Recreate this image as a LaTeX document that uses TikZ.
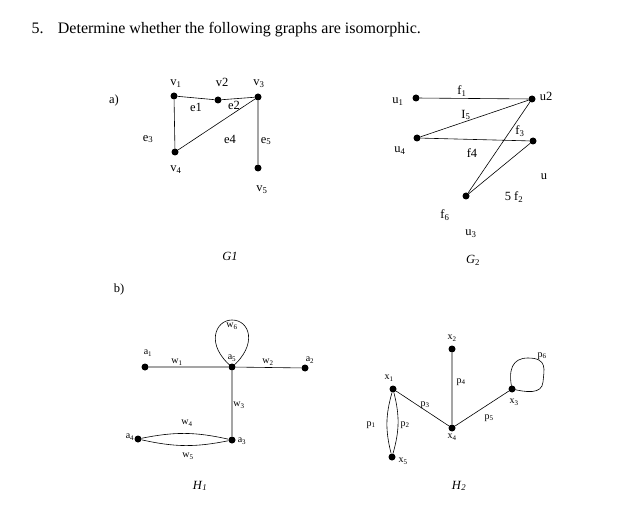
\documentclass[tikz,border=0pt]{standalone}
\usepackage{fontspec}
\setmainfont{Liberation Serif}
\begin{document}
\begin{tikzpicture}[x=1pt,y=-1pt,
  dot/.style={circle,fill=black,inner sep=0pt,minimum size=7pt},
  lbl/.style={font=\fontsize{12.5}{13}\selectfont,inner sep=0pt},
  sml/.style={font=\fontsize{10}{11}\selectfont,inner sep=0pt},
  edge/.style={draw,line width=0.6pt}]
\useasboundingbox (0,0) rectangle (640,505);
\node[anchor=west,font=\fontsize{16}{18}\selectfont] (title) at (28,30) {5.\hspace{0.9em}Determine whether the following graphs are isomorphic.};
\node[lbl] (la) at (114,100) {a)};
\node[lbl] (lb) at (119,289) {b)};
% G1
\node[dot] (v1) at (174,96) {};
\node[dot] (v2) at (218,100) {};
\node[dot] (v3) at (258,97) {};
\node[dot] (v4) at (175,152) {};
\node[dot] (v5) at (258,168) {};
\draw[edge] (v1)--(v2)--(v3) (v1)--(v4)--(v3)--(v5);
\node[lbl] (tv1) at (176,84) {v\textsubscript{1}};
\node[lbl] (tv2) at (222,82) {v2};
\node[lbl] (tv3) at (259,84) {v\textsubscript{3}};
\node[lbl] (te1) at (196,107) {e1};
\node[lbl] (te2) at (234,105) {e2};
\node[lbl] (te3) at (148,139) {e\textsubscript{3}};
\node[lbl] (te4) at (230,139) {e4};
\node[lbl] (te5) at (266,141) {e\textsubscript{5}};
\node[lbl] (tv4) at (176,170) {v\textsubscript{4}};
\node[lbl] (tv5) at (262,190) {v\textsubscript{5}};
\node[lbl,font=\itshape\fontsize{12.5}{13}\selectfont] (g1) at (230,256) {G1};
% G2
\node[dot] (u1) at (416,98) {};
\node[dot] (u2) at (532,99) {};
\node[dot] (u4) at (417,138) {};
\node[dot] (u5) at (533,141) {};
\node[dot] (u3) at (466,196) {};
\draw[edge] (u1)--(u2) (u4)--(u2) (u4)--(u5) (u3)--(u2) (u3)--(u5);
\node[lbl] (tu1) at (398,102) {u\textsubscript{1}};
\node[lbl] (tf1) at (462,91) {f\textsubscript{1}};
\node[lbl] (tu2) at (546,96) {u2};
\node[lbl] (tf5) at (466,115) {I\textsubscript{5}};
\node[lbl] (tu4) at (400,151) {u\textsubscript{4}};
\node[lbl] (tf3) at (520,131) {f\textsubscript{3}};
\node[lbl] (tf4) at (472,153) {f4};
\node[lbl] (tu) at (544,177) {u};
\node[lbl] (tf2) at (514,197) {5 f\textsubscript{2}};
\node[lbl] (tf6) at (445,215) {f\textsubscript{6}};
\node[lbl] (tu3) at (471,234) {u\textsubscript{3}};
\node[lbl] (g2) at (473,260) {\textit{G}\textsubscript{2}};
% H1
\node[dot] (a1) at (145,367) {};
\node[dot] (a5) at (232,367) {};
\node[dot] (a2) at (305,368) {};
\node[dot] (a3) at (232,440) {};
\node[dot] (a4) at (138,439) {};
\draw[edge] (a1)--(a5)--(a2) (a5)--(a3);
\draw[edge] (a4) to[bend left=12] (a3);
\draw[edge] (a4) to[bend right=12] (a3);
\draw[edge] (a5.center) .. controls (205,345) and (215,320) .. (232,320) .. controls (250,320) and (258,345) .. (a5.center);
\node[sml] (tw6) at (232,326) {w\textsubscript{6}};
\node[sml] (ta1) at (148,353) {a\textsubscript{1}};
\node[sml] (tw1) at (177,362) {w\textsubscript{1}};
\node[sml] (ta5) at (232,358) {a\textsubscript{5}};
\node[sml] (tw2) at (268,362) {w\textsubscript{2}};
\node[sml] (ta2) at (310,360) {a\textsubscript{2}};
\node[sml] (tw3) at (239,405) {w\textsubscript{3}};
\node[sml] (tw4) at (187,423) {w\textsubscript{4}};
\node[sml] (ta4) at (130,437) {a\textsubscript{4}};
\node[sml] (ta3) at (242,441) {a\textsubscript{3}};
\node[sml] (tw5) at (188,456) {w\textsubscript{5}};
\node[lbl] (h1) at (200,486) {\textit{H}\textsubscript{\textit{1}}};
% H2
\node[dot] (x2) at (452,349) {};
\node[dot] (x1) at (393,389) {};
\node[dot] (x4) at (452,428) {};
\node[dot] (x3) at (512,389) {};
\node[dot] (x5) at (392,457) {};
\draw[edge] (x2)--(x4) (x1)--(x4)--(x3);
\draw[edge] (x1) to[bend right=15] (x5);
\draw[edge] (x1) to[bend left=15] (x5);
\draw[edge] (x3.center) .. controls (508,370) and (512,358) .. (528,358) .. controls (548,358) and (544,370) .. (543,382) .. controls (542,395) and (525,392) .. (x3.center);
\node[sml] (tx2) at (452,338) {x\textsubscript{2}};
\node[sml] (tx1) at (389,378) {x\textsubscript{1}};
\node[sml] (tp4) at (461,382) {p\textsubscript{4}};
\node[sml] (tp6) at (542,356) {p\textsubscript{6}};
\node[sml] (tx3) at (514,402) {x\textsubscript{3}};
\node[sml] (tp3) at (425,405) {p\textsubscript{3}};
\node[sml] (tp1) at (371,425) {p\textsubscript{1}};
\node[sml] (tp2) at (405,425) {p\textsubscript{2}};
\node[sml] (tp5) at (489,418) {p\textsubscript{5}};
\node[sml] (tx4) at (452,437) {x\textsubscript{4}};
\node[sml] (tx5) at (403,461) {x\textsubscript{5}};
\node[lbl] (h2) at (459,486) {\textit{H}\textsubscript{\textit{2}}};
\end{tikzpicture}
\end{document}
